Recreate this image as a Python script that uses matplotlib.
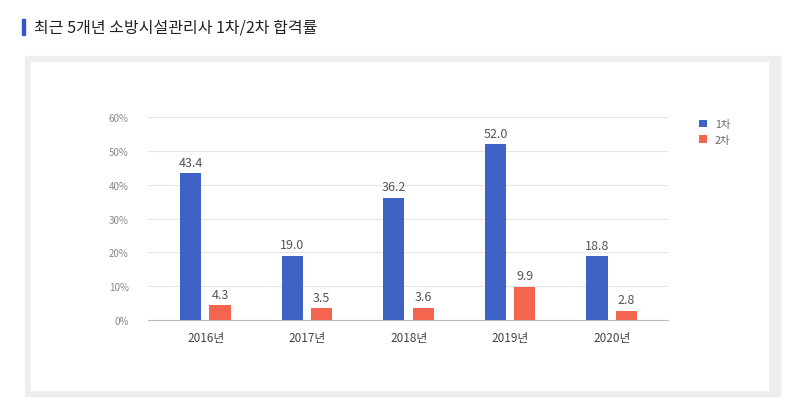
import matplotlib.pyplot as plt
from matplotlib.patches import Rectangle
import numpy as np

plt.rcParams['font.family'] = ['Noto Sans CJK KR', 'Noto Sans CJK JP', 'Noto Sans CJK SC', 'DejaVu Sans']

years = ['2016년', '2017년', '2018년', '2019년', '2020년']
first = [43.4, 19.0, 36.2, 52.0, 18.8]
second = [4.3, 3.5, 3.6, 9.9, 2.8]
yticks = [0, 10, 20, 30, 40, 50, 60]

blue = '#3f63c4'
red = '#f4654f'

fig = plt.figure(figsize=(8, 4.1), dpi=100)
W, H = 800, 410

def box(x0, y0, x1, y1, **kw):
    fig.patches.append(Rectangle((x0 / W, 1 - y1 / H), (x1 - x0) / W, (y1 - y0) / H,
                                 transform=fig.transFigure, zorder=-5, **kw))

# title and marker
box(22, 20, 25, 36, color='#3355cc')
fig.text(34 / W, 1 - 28 / H, '최근 5개년 소방시설관리사 1차/2차 합격률',
         fontsize=11.5, va='center', color='#222222')

# panel
box(25, 57, 780, 397, color='#eeeeee')
box(31, 63, 768, 391, color='white')

ax = fig.add_axes([148 / W, 1 - 321 / H, 520 / W, 203 / H])
ax.patch.set_alpha(0)
x = np.arange(len(years))
bw = 0.21
b1 = ax.bar(x - 0.15, first, bw, color=blue, label='1차', zorder=3)
b2 = ax.bar(x + 0.14, second, bw, color=red, label='2차', zorder=3)
for bars, vals in ((b1, first), (b2, second)):
    for r, v in zip(bars, vals):
        ax.text(r.get_x() + r.get_width() / 2, v + 1.3, f'{v:.1f}', ha='center',
                va='bottom', fontsize=9, color='#555555')

ax.set_xlim(-0.57, 4.55)
ax.set_ylim(0, 60)
ax.set_yticks(yticks)
ax.set_yticklabels([f'{t}%' for t in yticks], fontsize=7, color='#888888')
ax.set_xticks(x)
ax.set_xticklabels(years, fontsize=8.5, color='#444444')
ax.grid(axis='y', color='#e6e6e6', lw=0.8, zorder=0)
for s in ['top', 'right', 'left']:
    ax.spines[s].set_visible(False)
ax.spines['bottom'].set_color('#bbbbbb')
ax.tick_params(axis='both', length=0, pad=8)
ax.tick_params(axis='y', pad=14)

fig.legend(handles=[b1, b2], loc='upper left', bbox_to_anchor=(690 / W, 1 - 111 / H),
           frameon=False, fontsize=7.5, handlelength=0.7, handleheight=0.7,
           labelspacing=0.5, handletextpad=0.8, labelcolor='#666666')

fig.savefig('out.png', dpi=100)
